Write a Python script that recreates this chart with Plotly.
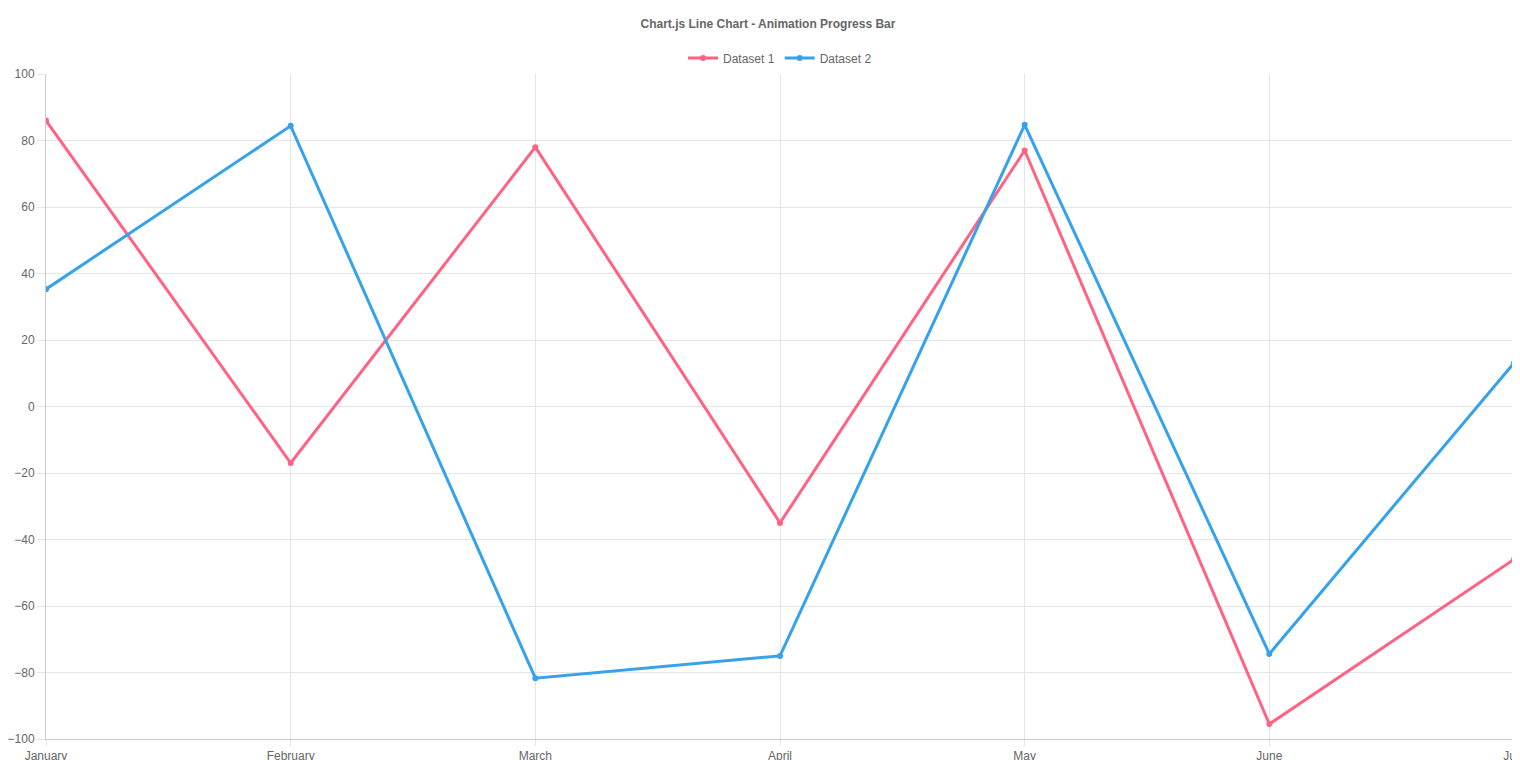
import plotly.graph_objects as go

months = ["January", "February", "March", "April", "May", "June", "July"]
dataset_1 = [86, -17, 78, -35, 77, -95.5, -46]
dataset_2 = [35.3, 84.4, -81.7, -75, 84.7, -74.4, 13.1]

RED = "rgb(255, 99, 132)"
BLUE = "rgb(54, 162, 235)"

fig = go.Figure()
for name, vals, col in [("Dataset 1", dataset_1, RED), ("Dataset 2", dataset_2, BLUE)]:
    fig.add_trace(
        go.Scatter(
            x=months, y=vals, name=name, mode="lines+markers",
            line=dict(color=col, width=3),
            marker=dict(size=6, color=col),
        )
    )

fig.update_layout(
    width=1520, height=760,
    paper_bgcolor="white", plot_bgcolor="white",
    font=dict(family="Liberation Sans, Arial", size=12, color="#666"),
    title=dict(text="<b>Chart.js Line Chart - Animation Progress Bar</b>",
               x=0.5, xanchor="center", yref="container", y=1 - 16 / 760,
               yanchor="middle", font=dict(size=12, color="#666")),
    legend=dict(orientation="h", x=0.5, xanchor="center", y=1 + 16 / 665,
                yanchor="middle", font=dict(size=12, color="#666")),
    margin=dict(l=38, r=14, t=66, b=29, autoexpand=False),
    xaxis=dict(showgrid=True, gridcolor="#e5e5e5", showline=True,
               linecolor="#ccc", range=[0, 6], ticks="outside",
               ticklen=6, tickcolor="#e5e5e5", zeroline=False,
               automargin=False),
    yaxis=dict(showgrid=True, gridcolor="#e5e5e5", showline=True,
               linecolor="#ccc", range=[-100, 100], dtick=20,
               ticks="outside", ticklen=8, tickcolor="#e5e5e5",
               zeroline=False, automargin=False),
)

fig.write_html("out.html")
